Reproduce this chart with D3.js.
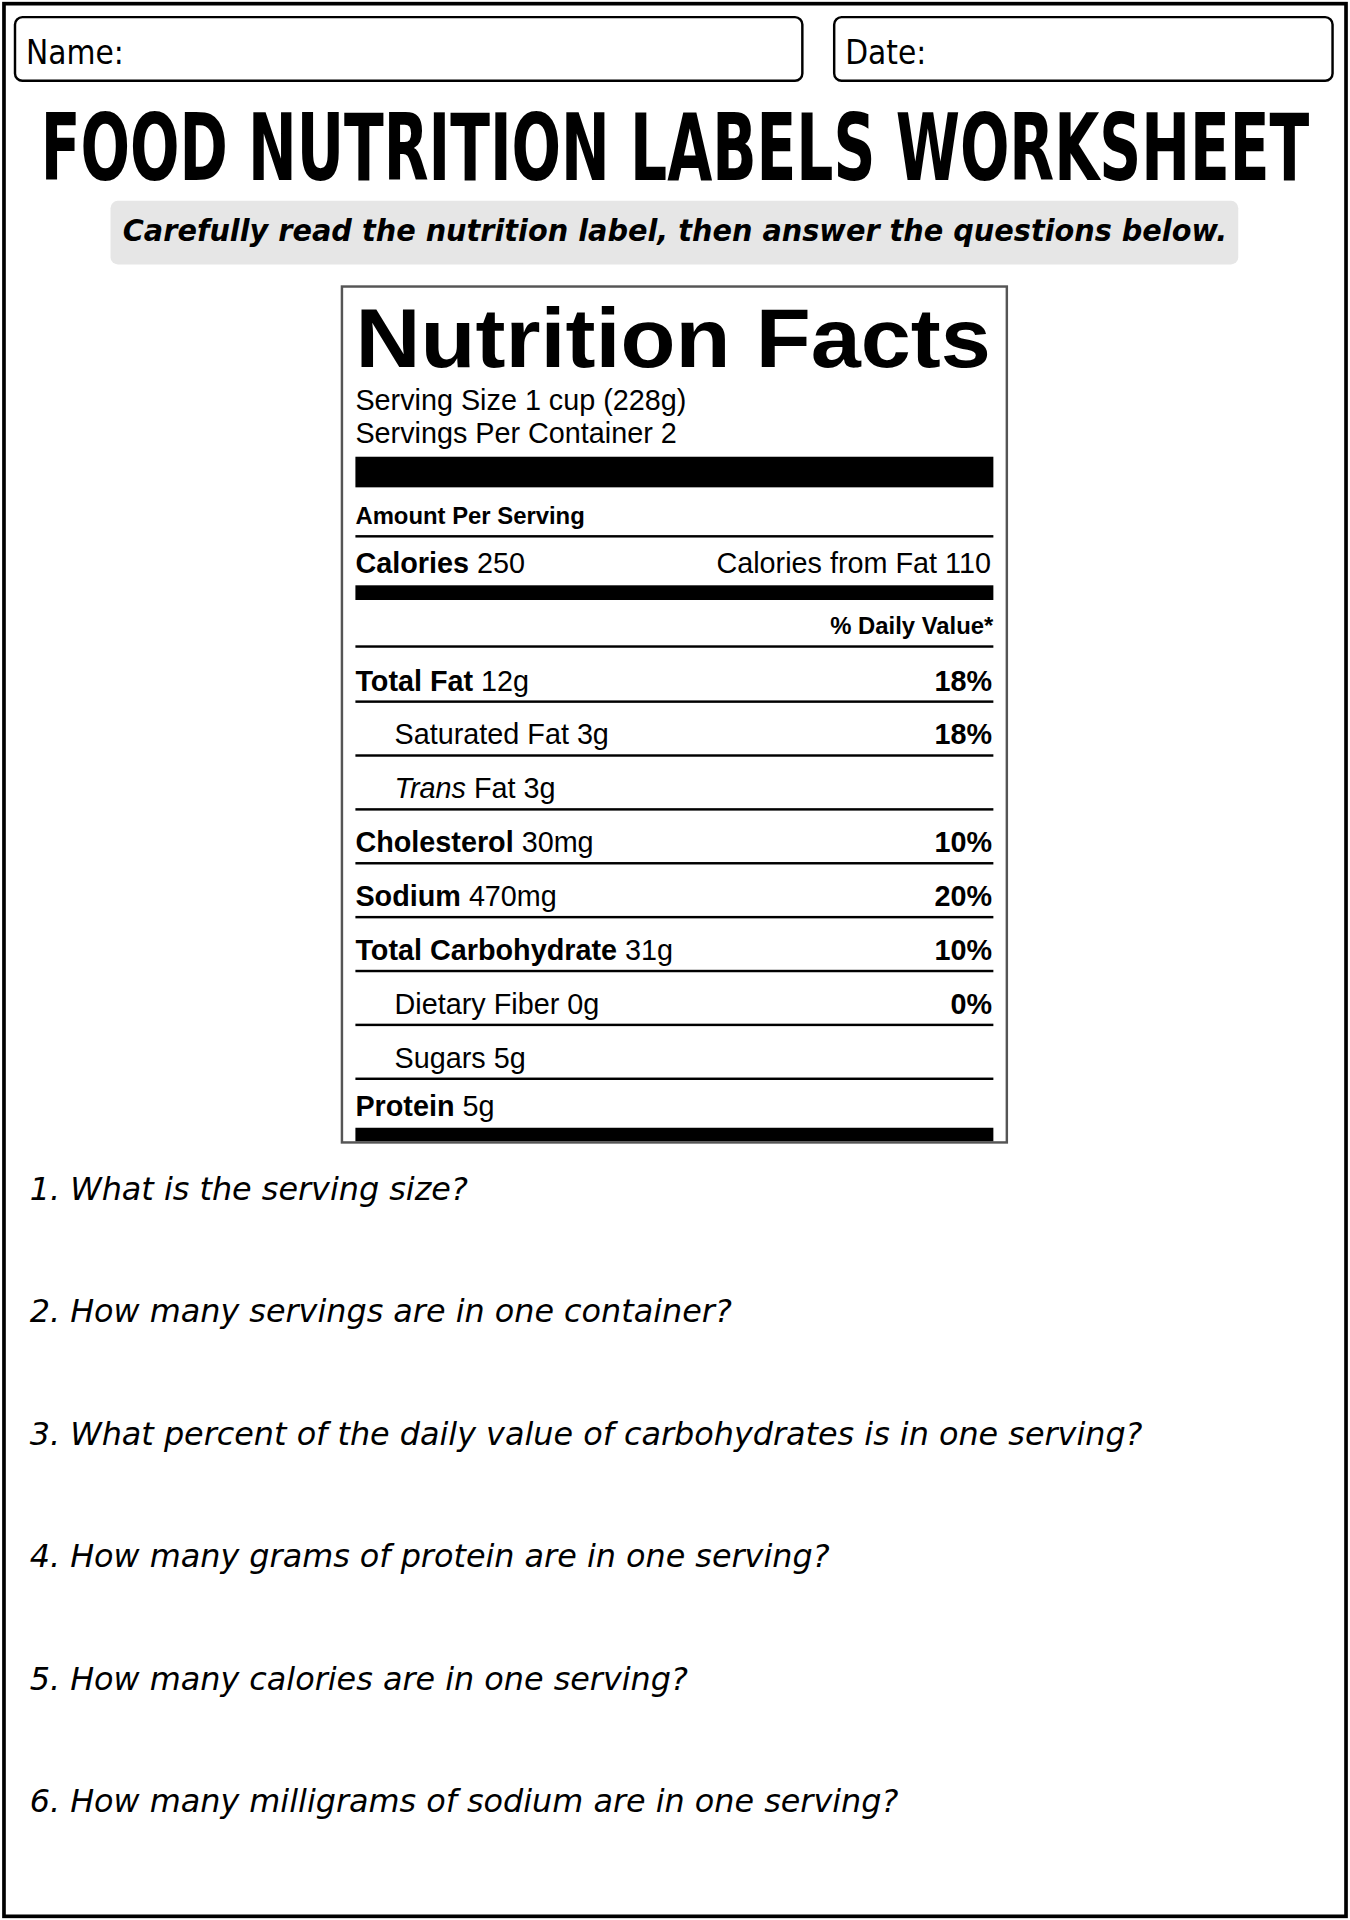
<!DOCTYPE html>
<html>
<head>
<meta charset="utf-8">
<script src="https://cdn.jsdelivr.net/npm/d3@7"></script>
<style>
  body { margin: 0; background: #fff; }
  text { font-family: "Liberation Sans", Arial, sans-serif; }
</style>
</head>
<body>
<svg id="chart" width="1350" height="1920" viewBox="0 0 1102 1568"></svg>
<script>
// label rows
var nutrients = ["Total Fat", "Saturated Fat", "Trans Fat", "Cholesterol", "Sodium",
                 "Total Carbohydrate", "Dietary Fiber", "Sugars", "Protein"];
var amounts = ["12g", "3g", "3g", "30mg", "470mg", "31g", "0g", "5g", "5g"];
var dailyValues = ["18%", "18%", "", "10%", "20%", "10%", "0%", "", ""];
var boldRows = [true, false, false, true, true, true, false, false, true];
var questions = [
  "1. What is the serving size?",
  "2. How many servings are in one container?",
  "3. What percent of the daily value of carbohydrates is in one serving?",
  "4. How many grams of protein are in one serving?",
  "5. How many calories are in one serving?",
  "6. How many milligrams of sodium are in one serving?"
];

var svg = d3.select("#chart");

// fit a text horizontally to a given width with a transform instead of textLength
function fitWidth(sel, x, y, width) {
  var w = sel.node().getComputedTextLength();
  sel.attr("x", 0).attr("y", 0)
     .attr("transform", "translate(" + x + "," + y + ") scale(" + (width / w) + ",1)");
}

// page border
svg.append("rect").attr("x", 3).attr("y", 3).attr("width", 1096).attr("height", 1562)
   .attr("fill", "none").attr("stroke", "#000").attr("stroke-width", 3);

// name / date boxes
[["Name:", 12, 643], ["Date:", 681, 407]].forEach(function(b) {
  svg.append("rect").attr("x", b[1]).attr("y", 14).attr("width", b[2]).attr("height", 52)
     .attr("rx", 6).attr("fill", "#fff").attr("stroke", "#000").attr("stroke-width", 2);
  svg.append("text").attr("x", b[1] + 9).attr("y", 52).text(b[0])
     .style("font-family", "'DejaVu Sans Condensed', sans-serif").style("font-size", "27px");
});

// title
var title = svg.append("text").text("FOOD NUTRITION LABELS WORKSHEET")
   .style("font-family", "'Liberation Sans Narrow', 'DejaVu Sans Condensed', sans-serif")
   .style("font-weight", "bold").style("font-size", "76px");
fitWidth(title, 33, 147, 1036);

// subtitle
svg.append("rect").attr("x", 90).attr("y", 164).attr("width", 921).attr("height", 52)
   .attr("rx", 6).attr("fill", "#e6e6e6");
var sub = svg.append("text")
   .text("Carefully read the nutrition label, then answer the questions below.")
   .style("font-family", "'DejaVu Sans', sans-serif").style("font-style", "italic")
   .style("font-weight", "bold").style("font-size", "25px");
fitWidth(sub, 100, 197, 902);

// label box
var L = 290, R = 811;
svg.append("rect").attr("x", 279).attr("y", 234).attr("width", 543).attr("height", 699)
   .attr("fill", "#fff").attr("stroke", "#555").attr("stroke-width", 2);
var nf = svg.append("text").text("Nutrition Facts")
   .style("font-weight", "bold").style("font-size", "68px");
fitWidth(nf, L, 300, 519);
svg.append("text").attr("x", L).attr("y", 335).text("Serving Size 1 cup (228g)").style("font-size", "23.5px");
svg.append("text").attr("x", L).attr("y", 362).text("Servings Per Container 2").style("font-size", "23.5px");
svg.append("rect").attr("x", L).attr("y", 373).attr("width", R - L).attr("height", 25).attr("fill", "#000");
svg.append("text").attr("x", L).attr("y", 428).text("Amount Per Serving")
   .style("font-weight", "bold").style("font-size", "19.5px");
svg.append("rect").attr("x", L).attr("y", 437).attr("width", R - L).attr("height", 2).attr("fill", "#000");
var cal = svg.append("text").attr("x", L).attr("y", 468).style("font-size", "23.5px");
cal.append("tspan").style("font-weight", "bold").text("Calories");
cal.append("tspan").text(" 250");
svg.append("text").attr("x", R - 2).attr("y", 468).attr("text-anchor", "end")
   .text("Calories from Fat 110").style("font-size", "23.5px");
svg.append("rect").attr("x", L).attr("y", 478).attr("width", R - L).attr("height", 12).attr("fill", "#000");
svg.append("text").attr("x", R).attr("y", 518).attr("text-anchor", "end").text("% Daily Value*")
   .style("font-weight", "bold").style("font-size", "19.5px");
svg.append("rect").attr("x", L).attr("y", 527).attr("width", R - L).attr("height", 2).attr("fill", "#000");

var y = d3.scaleBand().domain(nutrients).range([529, 925]);
var row = svg.selectAll("g.row").data(nutrients).enter().append("g").attr("class", "row")
   .attr("transform", function(d) { return "translate(0," + y(d) + ")"; });
row.each(function(d, i) {
  var g = d3.select(this);
  var ty = d === "Protein" ? 30 : 35;
  var t = g.append("text").attr("x", boldRows[i] ? L : L + 32).attr("y", ty).style("font-size", "23.5px");
  if (d === "Trans Fat") {
    t.append("tspan").style("font-style", "italic").text("Trans");
    t.append("tspan").text(" Fat " + amounts[i]);
  } else {
    t.append("tspan").style("font-weight", boldRows[i] ? "bold" : "normal").text(d);
    t.append("tspan").text(" " + amounts[i]);
  }
  g.append("text").attr("x", R - 1).attr("y", ty).attr("text-anchor", "end")
   .style("font-weight", "bold").style("font-size", "23.5px").text(dailyValues[i]);
  if (i < nutrients.length - 1)
    g.append("rect").attr("x", L).attr("y", y.bandwidth() - 1).attr("width", R - L).attr("height", 2).attr("fill", "#000");
});
svg.append("rect").attr("x", L).attr("y", 921).attr("width", R - L).attr("height", 11).attr("fill", "#000");

// questions
var qy = d3.scalePoint().domain(d3.range(questions.length)).range([980, 1480]);
svg.selectAll("text.q").data(questions).enter().append("text").attr("class", "q")
   .attr("x", 24).attr("y", function(d, i) { return qy(i); }).text(function(d) { return d; })
   .style("font-family", "'DejaVu Sans', sans-serif").style("font-style", "italic")
   .style("font-size", "26px");
</script>
</body>
</html>
